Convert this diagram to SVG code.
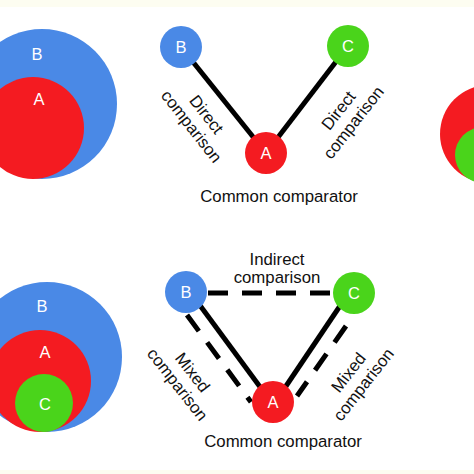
<svg xmlns="http://www.w3.org/2000/svg" width="474" height="474" viewBox="0 0 474 474">
  <style>
    .blue { fill: #4a89e6; }
    .red { fill: #f41b21; }
    .green { fill: #4ad41b; }
    .lbl { font-family: "Liberation Sans", Arial, sans-serif; font-size: 16.8px; fill: #111; text-anchor: middle; }
    .nl { font-family: "Liberation Sans", Arial, sans-serif; font-size: 16.5px; fill: #ffffff; text-anchor: middle; }
    .solid { stroke: #000; stroke-width: 5; fill: none; }
    .dash { stroke: #000; stroke-width: 5; fill: none; stroke-dasharray: 20 14; }
  </style>
  <rect x="0" y="0" width="474" height="474" fill="#ffffff"/>
  <rect x="0" y="0" width="474" height="7" fill="#fdfdf1"/>
  <rect x="0" y="470" width="474" height="4" fill="#fdfdf1"/>

  <!-- Top-left Venn -->
  <g id="venn-top-left">
    <circle class="blue" cx="42" cy="104" r="75"/>
    <circle class="red" cx="33" cy="128" r="51"/>
    <text class="nl" x="37" y="60">B</text>
    <text class="nl" x="39" y="105">A</text>
  </g>

  <!-- Top-right Venn (clipped) -->
  <g id="venn-top-right">
    <circle class="red" cx="489" cy="134" r="49"/>
    <circle class="green" cx="483" cy="155" r="28"/>
  </g>

  <!-- Bottom-left Venn -->
  <g id="venn-bottom-left">
    <circle class="blue" cx="47" cy="357" r="75"/>
    <circle class="red" cx="40" cy="381" r="51"/>
    <circle class="green" cx="44" cy="403" r="29"/>
    <text class="nl" x="42" y="312">B</text>
    <text class="nl" x="45" y="358">A</text>
    <text class="nl" x="45" y="410">C</text>
  </g>

  <!-- Connectors -->
  <g id="connectors">
    <line class="solid" x1="181" y1="47" x2="266" y2="153"/>
    <line class="solid" x1="348" y1="46" x2="266" y2="153"/>
    <line class="dash" x1="208" y1="293" x2="334" y2="293" stroke-dasharray="20 15"/>
    <line class="solid" x1="196" y1="300" x2="266" y2="395"/>
    <line class="dash" x1="187" y1="315" x2="251" y2="402" stroke-dasharray="19 14"/>
    <line class="solid" x1="346" y1="297" x2="280" y2="395"/>
    <line class="dash" x1="346" y1="326" x2="297" y2="396" stroke-dasharray="17 14"/>
  </g>

  <!-- Top triangle nodes -->
  <g id="top-B">
    <circle class="blue" cx="181" cy="47" r="21"/>
    <text class="nl" x="181" y="53">B</text>
  </g>
  <g id="top-C">
    <circle class="green" cx="348" cy="46" r="21"/>
    <text class="nl" x="348" y="52">C</text>
  </g>
  <g id="top-A">
    <circle class="red" cx="266" cy="153" r="21"/>
    <text class="nl" x="266" y="159">A</text>
  </g>

  <!-- Bottom triangle nodes -->
  <g id="bottom-B">
    <circle class="blue" cx="186" cy="292" r="21"/>
    <text class="nl" x="186" y="298">B</text>
  </g>
  <g id="bottom-C">
    <circle class="green" cx="354" cy="293" r="21"/>
    <text class="nl" x="354" y="299">C</text>
  </g>
  <g id="bottom-A">
    <circle class="red" cx="273" cy="402" r="21"/>
    <text class="nl" x="273" y="408">A</text>
  </g>

  <!-- Labels -->
  <g id="labels">
    <text class="lbl" transform="translate(202,118) rotate(52)">Direct</text>
    <text class="lbl" transform="translate(187,130) rotate(52)">comparison</text>
    <text class="lbl" transform="translate(343,114) rotate(-52)">Direct</text>
    <text class="lbl" transform="translate(358,126) rotate(-52)">comparison</text>
    <text class="lbl" x="279" y="202">Common comparator</text>

    <text class="lbl" x="277" y="265">Indirect</text>
    <text class="lbl" x="277" y="283">comparison</text>
    <text class="lbl" transform="translate(188,376) rotate(52)">Mixed</text>
    <text class="lbl" transform="translate(173,388) rotate(52)">comparison</text>
    <text class="lbl" transform="translate(353,376) rotate(-52)">Mixed</text>
    <text class="lbl" transform="translate(368,388) rotate(-52)">comparison</text>
    <text class="lbl" x="283" y="447">Common comparator</text>
  </g>
</svg>
